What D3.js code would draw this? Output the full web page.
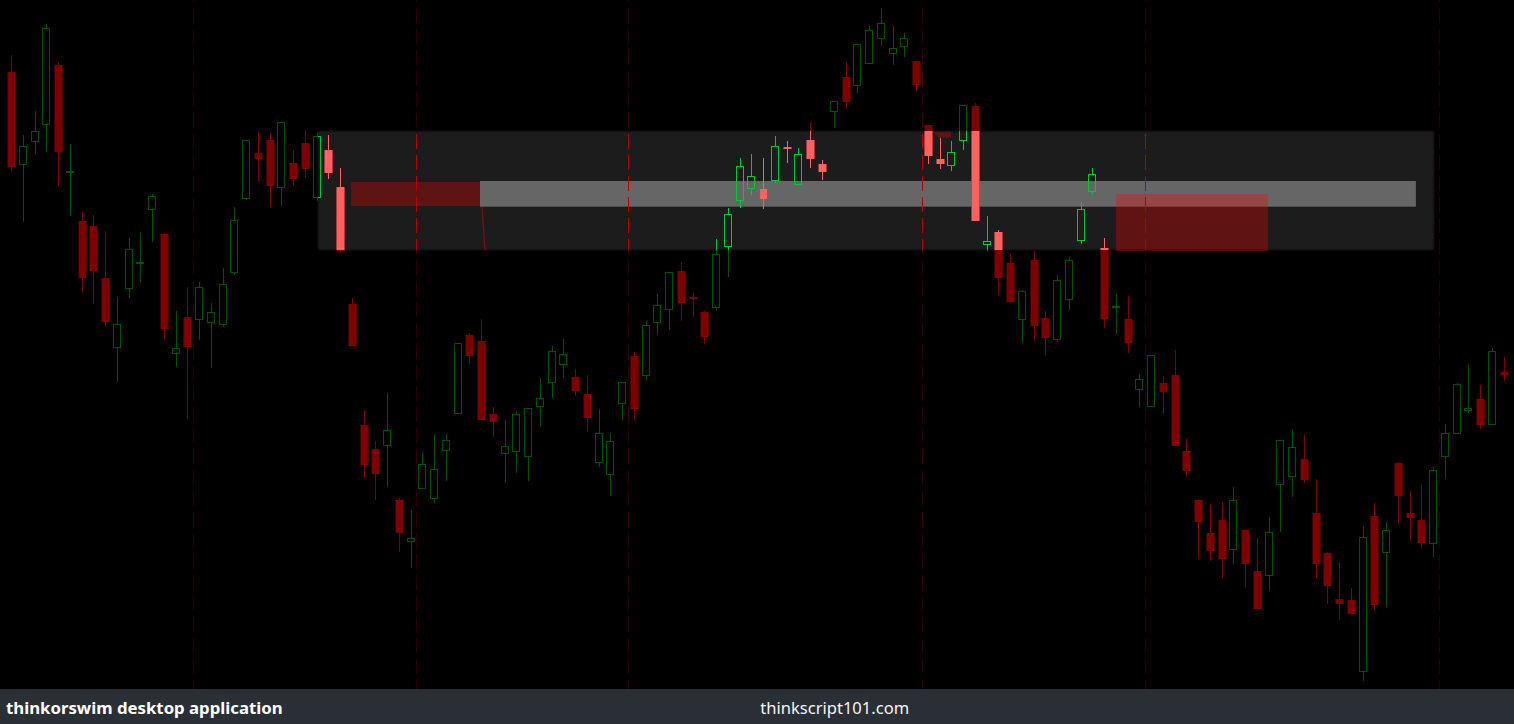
<!DOCTYPE html>
<html>
<head>
<meta charset="utf-8">
<script src="https://d3js.org/d3.v7.min.js"></script>
<style>
  body { margin: 0; background: #000; overflow: hidden; }
</style>
</head>
<body>
<svg id="chart" width="1514" height="724"></svg>
<script>
// OHLC per bar, left to right
let open = [462.83,453.47,455.77,457.47,463.50,452.67,447.90,447.40,442.23,435.17,
  441.07,443.63,448.97,446.57,434.57,438.30,437.97,437.67,437.47,442.67,
  450.07,454.70,456.00,451.23,453.70,455.70,450.23,455.00,451.30,439.60,
  427.50,425.10,425.43,420.00,415.83,421.07,420.07,424.87,428.63,436.50,
  435.90,428.60,424.57,424.77,424.27,429.27,431.67,433.47,432.30,430.60,
  423.67,422.47,429.63,434.40,432.43,437.67,438.97,442.90,440.27,438.80,
  439.17,445.27,449.87,451.10,451.10,451.93,455.30,451.47,456.00,453.60,
  458.83,462.30,461.43,463.63,466.07,464.57,465.33,463.90,457.50,454.10,
  453.43,455.93,459.40,445.47,446.80,443.70,437.97,444.00,438.17,435.97,
  439.97,445.87,450.77,445.17,439.23,438.10,430.97,429.33,431.67,432.50,
  424.90,420.00,416.70,418.00,414.97,417.00,412.90,412.37,421.47,422.27,
  424.10,418.70,414.70,410.10,410.00,402.77,418.40,414.67,423.70,418.70,
  418.00,415.57,424.27,426.57,428.87,430.07,427.47,432.80];

let high = [464.50,456.50,458.90,467.60,463.77,455.60,448.80,448.50,446.93,440.30,
  446.20,446.80,450.60,446.67,438.90,441.27,441.83,439.70,443.20,449.30,
  456.00,456.90,456.67,457.77,455.00,457.00,456.67,456.50,453.17,440.23,
  429.03,425.90,430.73,420.23,419.00,424.73,426.53,426.63,435.70,436.67,
  438.10,429.30,428.00,428.90,429.17,432.23,435.40,436.10,433.13,432.50,
  429.10,426.70,431.77,434.77,437.90,440.60,442.77,443.80,440.80,438.90,
  446.10,449.17,454.17,454.60,454.17,456.40,455.90,455.17,457.80,454.00,
  459.90,463.83,465.60,467.40,469.23,467.40,466.73,464.00,457.50,456.17,
  455.90,459.47,459.67,448.37,447.00,444.60,441.00,444.93,438.90,442.50,
  444.30,449.77,453.20,446.20,440.60,440.43,432.60,434.50,432.40,435.00,
  426.10,420.00,419.60,419.80,421.30,417.13,416.20,418.30,426.00,427.10,
  426.50,422.10,414.83,413.80,411.20,417.40,419.73,417.80,423.80,420.90,
  421.60,423.30,427.60,431.73,433.60,431.50,435.20,434.30];

let low = [452.83,447.83,454.53,454.83,451.43,448.43,440.93,439.63,437.33,431.83,
  440.23,441.83,445.83,436.10,433.33,428.07,436.00,433.23,437.27,442.50,
  449.97,451.80,449.33,449.43,451.43,452.20,449.93,452.07,444.83,435.43,
  422.23,420.03,421.33,414.83,413.23,421.07,419.73,421.93,428.63,433.63,
  428.03,426.33,421.67,422.67,421.93,427.33,430.23,432.23,430.40,426.83,
  423.33,420.43,428.03,428.13,432.03,436.50,437.03,437.90,438.30,435.63,
  438.93,442.27,449.17,450.50,449.13,451.73,453.73,451.47,453.23,451.97,
  457.23,459.23,460.73,463.63,465.43,463.53,464.33,460.93,453.63,453.13,
  452.87,455.03,447.93,444.77,440.50,439.73,435.73,435.93,434.43,435.83,
  439.00,445.63,450.57,437.23,436.63,434.70,429.33,429.33,428.63,425.43,
  422.33,414.13,413.93,412.23,413.63,411.23,409.13,410.93,416.83,420.33,
  421.73,412.23,409.63,408.03,408.50,401.93,409.03,409.33,417.63,416.03,
  415.23,414.33,422.13,426.57,428.73,427.13,427.47,431.93];

let close = [453.33,455.40,456.90,467.17,454.83,452.87,442.23,442.93,437.83,437.60,
  445.07,443.77,450.37,437.13,435.17,435.33,441.30,438.77,441.57,448.00,
  455.97,454.13,451.43,457.77,452.10,453.10,456.40,452.73,444.93,435.43,
  423.50,422.63,426.97,416.73,416.17,423.60,423.07,425.97,435.70,434.43,
  428.03,427.83,425.37,428.60,429.17,430.17,434.90,434.57,430.93,428.23,
  426.67,425.87,431.77,429.10,437.47,439.47,442.77,439.73,440.13,436.33,
  444.60,448.57,453.37,452.37,450.13,455.40,455.13,454.57,454.10,452.80,
  459.90,459.83,465.60,466.97,467.70,465.17,466.17,461.50,454.43,453.63,
  454.77,459.47,447.93,445.87,442.23,439.80,440.87,437.43,436.23,441.97,
  443.97,449.07,452.57,438.13,439.37,435.73,432.07,434.50,430.83,425.43,
  422.93,417.83,414.93,414.13,419.97,413.63,409.13,416.77,426.00,425.27,
  422.03,413.63,411.43,409.63,408.63,416.27,409.50,416.97,420.43,418.23,
  415.73,422.97,426.67,431.60,429.17,427.53,434.87,432.53];

// a new session starts after these bars
let sessionBreaks = [15, 34, 52, 77, 96, 121];

// zones as [fromBar, toBar, topPrice, bottomPrice]
let zoneBox = [26.12, 121.07, 456.9, 445.0];
let midBand = [39.9, 119.53, 451.9, 449.33];
let redZones = [[28.93, 39.9, 451.8, 449.4], [94.01, 106.94, 450.6, 444.9]];
// small leftover pieces of the red fill: [bar, price] points
let redWedge = [[78.44, 456.83], [79.97, 456.83], [79.97, 456.23], [78.95, 456.23]];
let redSliver = [[40.07, 449.3], [40.33, 445.0]];

let footerLeft = "thinkorswim desktop application";
let footerCenter = "thinkscript101.com";

let W = 1514, H = 724, plotH = 689;

let svg = d3.select("#chart");
svg.append("rect").attr("width", W).attr("height", H).attr("fill", "#000");

let x = d3.scaleLinear().domain([0, 127]).range([11, 1503.7]);
let y = d3.scaleLinear().domain([401, 470]).range([690, 0]);

let bars = open.map((o, i) => ({ i: i, open: o, high: high[i], low: low[i], close: close[i], up: close[i] >= o }));

let defs = svg.append("defs");
defs.append("filter").attr("id", "soft")
    .append("feGaussianBlur").attr("stdDeviation", 1.3);

let zx0 = x(zoneBox[0]), zx1 = x(zoneBox[1]), zy0 = y(zoneBox[2]), zy1 = y(zoneBox[3]);
defs.append("clipPath").attr("id", "zoneClip")
    .append("rect").attr("x", zx0).attr("y", zy0).attr("width", zx1 - zx0).attr("height", zy1 - zy0);

// zone box + band
svg.append("rect")
    .attr("x", zx0).attr("y", zy0).attr("width", zx1 - zx0).attr("height", zy1 - zy0)
    .attr("fill", "#1c1c1c").attr("filter", "url(#soft)");

svg.append("rect")
    .attr("x", x(midBand[0])).attr("y", y(midBand[2]))
    .attr("width", x(midBand[1]) - x(midBand[0])).attr("height", y(midBand[3]) - y(midBand[2]))
    .attr("fill", "#666666");

svg.selectAll(".redZone").data(redZones).join("rect")
    .attr("class", "redZone")
    .attr("x", d => x(d[0])).attr("y", d => y(d[2]))
    .attr("width", d => x(d[1]) - x(d[0])).attr("height", d => y(d[3]) - y(d[2]))
    .attr("fill", "#ff0000").attr("fill-opacity", 0.3);

svg.append("path")
    .attr("d", d3.line().x(d => x(d[0])).y(d => y(d[1]))(redWedge) + "Z")
    .attr("fill", "#ff0000").attr("fill-opacity", 0.3);

svg.append("path")
    .attr("d", d3.line().x(d => x(d[0])).y(d => y(d[1]))(redSliver))
    .attr("stroke", "#ff0000").attr("stroke-opacity", 0.35).attr("stroke-width", 1.5).attr("fill", "none");

// session separators
function drawBreaks(g, color) {
    g.selectAll("line").data(sessionBreaks).join("line")
        .attr("x1", d => Math.round(x(d + 0.5)) + 0.5).attr("x2", d => Math.round(x(d + 0.5)) + 0.5)
        .attr("y1", 0).attr("y2", plotH)
        .attr("stroke", color).attr("stroke-width", 1)
        .attr("stroke-dasharray", "15,6").attr("stroke-dashoffset", 13);
}
drawBreaks(svg.append("g"), "#2c0000");
drawBreaks(svg.append("g").attr("clip-path", "url(#zoneClip)"), "#b80000");

// candles
function drawBars(g, upColor, downColor) {
    let c = g.selectAll("g").data(bars).join("g");
    c.each(function (d) {
        let sel = d3.select(this);
        let cx = Math.round(x(d.i));
        let top = Math.round(y(Math.max(d.open, d.close)));
        let bot = Math.round(y(Math.min(d.open, d.close)));
        let hi = Math.round(y(d.high)), lo = Math.round(y(d.low));
        if (d.up) {
            sel.append("line").attr("x1", cx + 0.5).attr("x2", cx + 0.5).attr("y1", hi).attr("y2", top)
                .attr("stroke", upColor);
            sel.append("line").attr("x1", cx + 0.5).attr("x2", cx + 0.5).attr("y1", bot).attr("y2", lo)
                .attr("stroke", upColor);
            sel.append("rect").attr("x", cx - 3.5).attr("y", top + 0.5)
                .attr("width", 7).attr("height", Math.max(bot - top - 1, 1))
                .attr("fill", "none").attr("stroke", upColor).attr("stroke-width", 1);
        } else {
            sel.append("line").attr("x1", cx + 0.5).attr("x2", cx + 0.5).attr("y1", hi).attr("y2", lo)
                .attr("stroke", downColor);
            sel.append("rect").attr("x", cx - 3.5).attr("y", top)
                .attr("width", 8).attr("height", Math.max(bot - top, 2))
                .attr("fill", downColor);
        }
    });
}
drawBars(svg.append("g"), "#005400", "#800000");
drawBars(svg.append("g").attr("clip-path", "url(#zoneClip)"), "#00c83a", "#ff6060");

// footer
svg.append("rect").attr("x", 0).attr("y", plotH).attr("width", W).attr("height", H - plotH).attr("fill", "#2a2f36");

function fitText(t, w) {
    let len = t.node().getComputedTextLength();
    t.attr("font-size", parseFloat(t.attr("font-size")) * w / len);
}

let tl = svg.append("text").text(footerLeft)
    .attr("x", 6).attr("y", 714)
    .attr("font-family", "'Noto Sans', 'Open Sans', sans-serif").attr("font-weight", "bold")
    .attr("font-size", 17).attr("fill", "#ffffff");
fitText(tl, 277);

let tc = svg.append("text").text(footerCenter)
    .attr("x", 834.7).attr("y", 714).attr("text-anchor", "middle")
    .attr("font-family", "'Noto Sans', 'Open Sans', sans-serif")
    .attr("font-size", 17).attr("fill", "#f4f4f4");
fitText(tc, 149);
</script>
</body>
</html>
